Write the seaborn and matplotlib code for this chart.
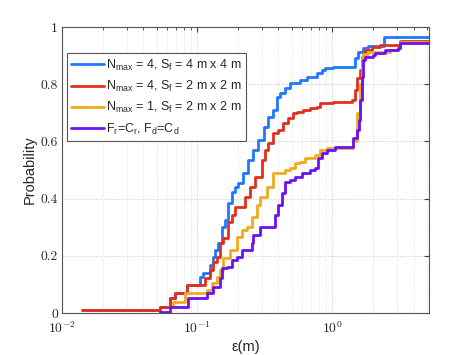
import numpy as np
import pandas as pd
import matplotlib
matplotlib.use("Agg")
import matplotlib.pyplot as plt
import seaborn as sns

# step points (eps in m, cumulative probability)
blue_x = [0.0141, 0.0532, 0.0631, 0.0688, 0.0843, 0.105, 0.111, 0.125, 0.131, 0.136, 0.143,
          0.153, 0.161, 0.170, 0.182, 0.191, 0.201, 0.219, 0.239, 0.260, 0.283, 0.310, 0.336,
          0.366, 0.391, 0.412, 0.449, 0.489, 0.579, 0.653, 0.774, 0.843, 0.888, 1.017, 1.48,
          1.56, 1.70, 1.85, 2.43, 5.2]
blue_y = [0.0105, 0.021, 0.052, 0.070, 0.098, 0.125, 0.140, 0.168, 0.196, 0.220, 0.245,
          0.301, 0.325, 0.385, 0.423, 0.441, 0.455, 0.490, 0.535, 0.570, 0.605, 0.650, 0.685,
          0.710, 0.755, 0.769, 0.787, 0.804, 0.815, 0.825, 0.839, 0.850, 0.857, 0.860, 0.892,
          0.913, 0.927, 0.934, 0.965, 0.965]

red_x = [0.0141, 0.0532, 0.0631, 0.0688, 0.0843, 0.115, 0.125, 0.131, 0.141, 0.148, 0.156,
         0.170, 0.182, 0.191, 0.227, 0.247, 0.269, 0.303, 0.319, 0.336, 0.366, 0.398, 0.434,
         0.472, 0.514, 0.550, 0.610, 0.687, 0.774, 0.815, 1.017, 1.41, 1.48, 1.53, 1.61, 1.67,
         1.76, 1.98, 2.27, 3.19, 5.2]
red_y = [0.0105, 0.021, 0.052, 0.070, 0.098, 0.122, 0.150, 0.178, 0.196, 0.245, 0.262,
         0.318, 0.343, 0.371, 0.406, 0.441, 0.476, 0.535, 0.570, 0.594, 0.629, 0.640, 0.664,
         0.682, 0.699, 0.703, 0.710, 0.717, 0.720, 0.734, 0.738, 0.745, 0.780, 0.822, 0.850,
         0.895, 0.920, 0.930, 0.937, 0.951, 0.951]

yellow_x = [0.0631, 0.0664, 0.0815, 0.119, 0.129, 0.141, 0.148, 0.156, 0.176, 0.198, 0.215,
            0.235, 0.255, 0.278, 0.293, 0.330, 0.366, 0.449, 0.489, 0.532, 0.579, 0.631, 0.748,
            0.815, 0.918, 1.43, 1.53, 1.61, 1.67, 1.70, 1.85, 2.69, 3.08, 3.19, 5.2]
yellow_y = [0.021, 0.038, 0.070, 0.080, 0.105, 0.126, 0.150, 0.192, 0.220, 0.266, 0.290,
            0.301, 0.336, 0.378, 0.406, 0.441, 0.490, 0.500, 0.507, 0.524, 0.528, 0.542, 0.552,
            0.570, 0.577, 0.600, 0.700, 0.800, 0.890, 0.905, 0.913, 0.920, 0.927, 0.948, 0.948]

purple_x = [0.0532, 0.0631, 0.0857, 0.119, 0.131, 0.148, 0.153, 0.167, 0.182, 0.198, 0.215,
            0.255, 0.260, 0.293, 0.378, 0.398, 0.426, 0.449, 0.489, 0.532, 0.600, 0.687, 0.748,
            0.787, 0.843, 0.918, 1.052, 1.43, 1.53, 1.585, 1.61, 1.67, 1.70, 1.76, 2.01, 2.08,
            2.47, 3.08, 3.19, 5.2]
purple_y = [0.003, 0.021, 0.052, 0.070, 0.091, 0.122, 0.157, 0.161, 0.185, 0.196, 0.220,
            0.245, 0.273, 0.301, 0.343, 0.378, 0.420, 0.458, 0.465, 0.476, 0.490, 0.500, 0.507,
            0.542, 0.559, 0.570, 0.580, 0.612, 0.640, 0.675, 0.745, 0.825, 0.885, 0.895, 0.902,
            0.909, 0.920, 0.927, 0.944, 0.944]

labels = [r"$\mathregular{N_{max}}$ = 4, $\mathregular{S_f}$ = 4 m x 4 m",
          r"$\mathregular{N_{max}}$ = 4, $\mathregular{S_f}$ = 2 m x 2 m",
          r"$\mathregular{N_{max}}$ = 1, $\mathregular{S_f}$ = 2 m x 2 m",
          r"$\mathregular{F_r}$=$\mathregular{C_r}$, $\mathregular{F_d}$=$\mathregular{C_d}$"]
colors = ["#1f78ff", "#e0301c", "#f0ac1e", "#6a12f2"]

sns.set_style("white")
plt.rcParams["font.family"] = ["Liberation Sans", "DejaVu Sans"]

fig = plt.figure(figsize=(4.74, 3.55), dpi=100)
ax = fig.add_axes([0.131, 0.118, 0.774, 0.806])

series = [(blue_x, blue_y), (red_x, red_y), (yellow_x, yellow_y), (purple_x, purple_y)]
for (xs, ys), lab, col in zip(series, labels, colors):
    df = pd.DataFrame({"eps": xs, "prob": ys})
    sns.lineplot(data=df, x="eps", y="prob", ax=ax, color=col, label=lab,
                 drawstyle="steps-post", estimator=None, sort=False, linewidth=2.0)

ax.set_xscale("log")
ax.set_xlim(0.01, 5.2)
ax.set_ylim(0, 1)
ax.set_yticks([0, 0.2, 0.4, 0.6, 0.8, 1])
ax.set_yticklabels(["0", "0.2", "0.4", "0.6", "0.8", "1"])

ax.grid(True, which="major", linestyle=":", color="#c8c8c8", linewidth=0.7)
ax.grid(True, which="minor", axis="x", linestyle=":", color="#d8d8d8", linewidth=0.6)
ax.tick_params(direction="in", which="both", top=True, right=True, color="#404040",
               labelsize=9.8)
ax.tick_params(axis="y", pad=3)
ax.tick_params(axis="x", pad=5)
ax.tick_params(which="major", length=3.5)
ax.tick_params(which="minor", length=2)
for lbl in ax.get_xticklabels() + ax.get_yticklabels():
    lbl.set_fontfamily("cmr10")
for s in ax.spines.values():
    s.set_color("#555555")
    s.set_linewidth(0.8)

ax.set_xlabel("ε(m)", fontsize=10.5, labelpad=3)
ax.set_ylabel("Probability", fontsize=10.5, labelpad=3)

leg = ax.legend(loc="upper left", bbox_to_anchor=(0.013, 0.908), borderaxespad=0,
                fontsize=9.0, handlelength=2.6, handletextpad=0.2, labelspacing=0.5,
                frameon=True, fancybox=False, framealpha=1, borderpad=0.35)
leg.get_frame().set_edgecolor("#555555")
leg.get_frame().set_linewidth(0.8)

fig.savefig("out.png", dpi=100)
